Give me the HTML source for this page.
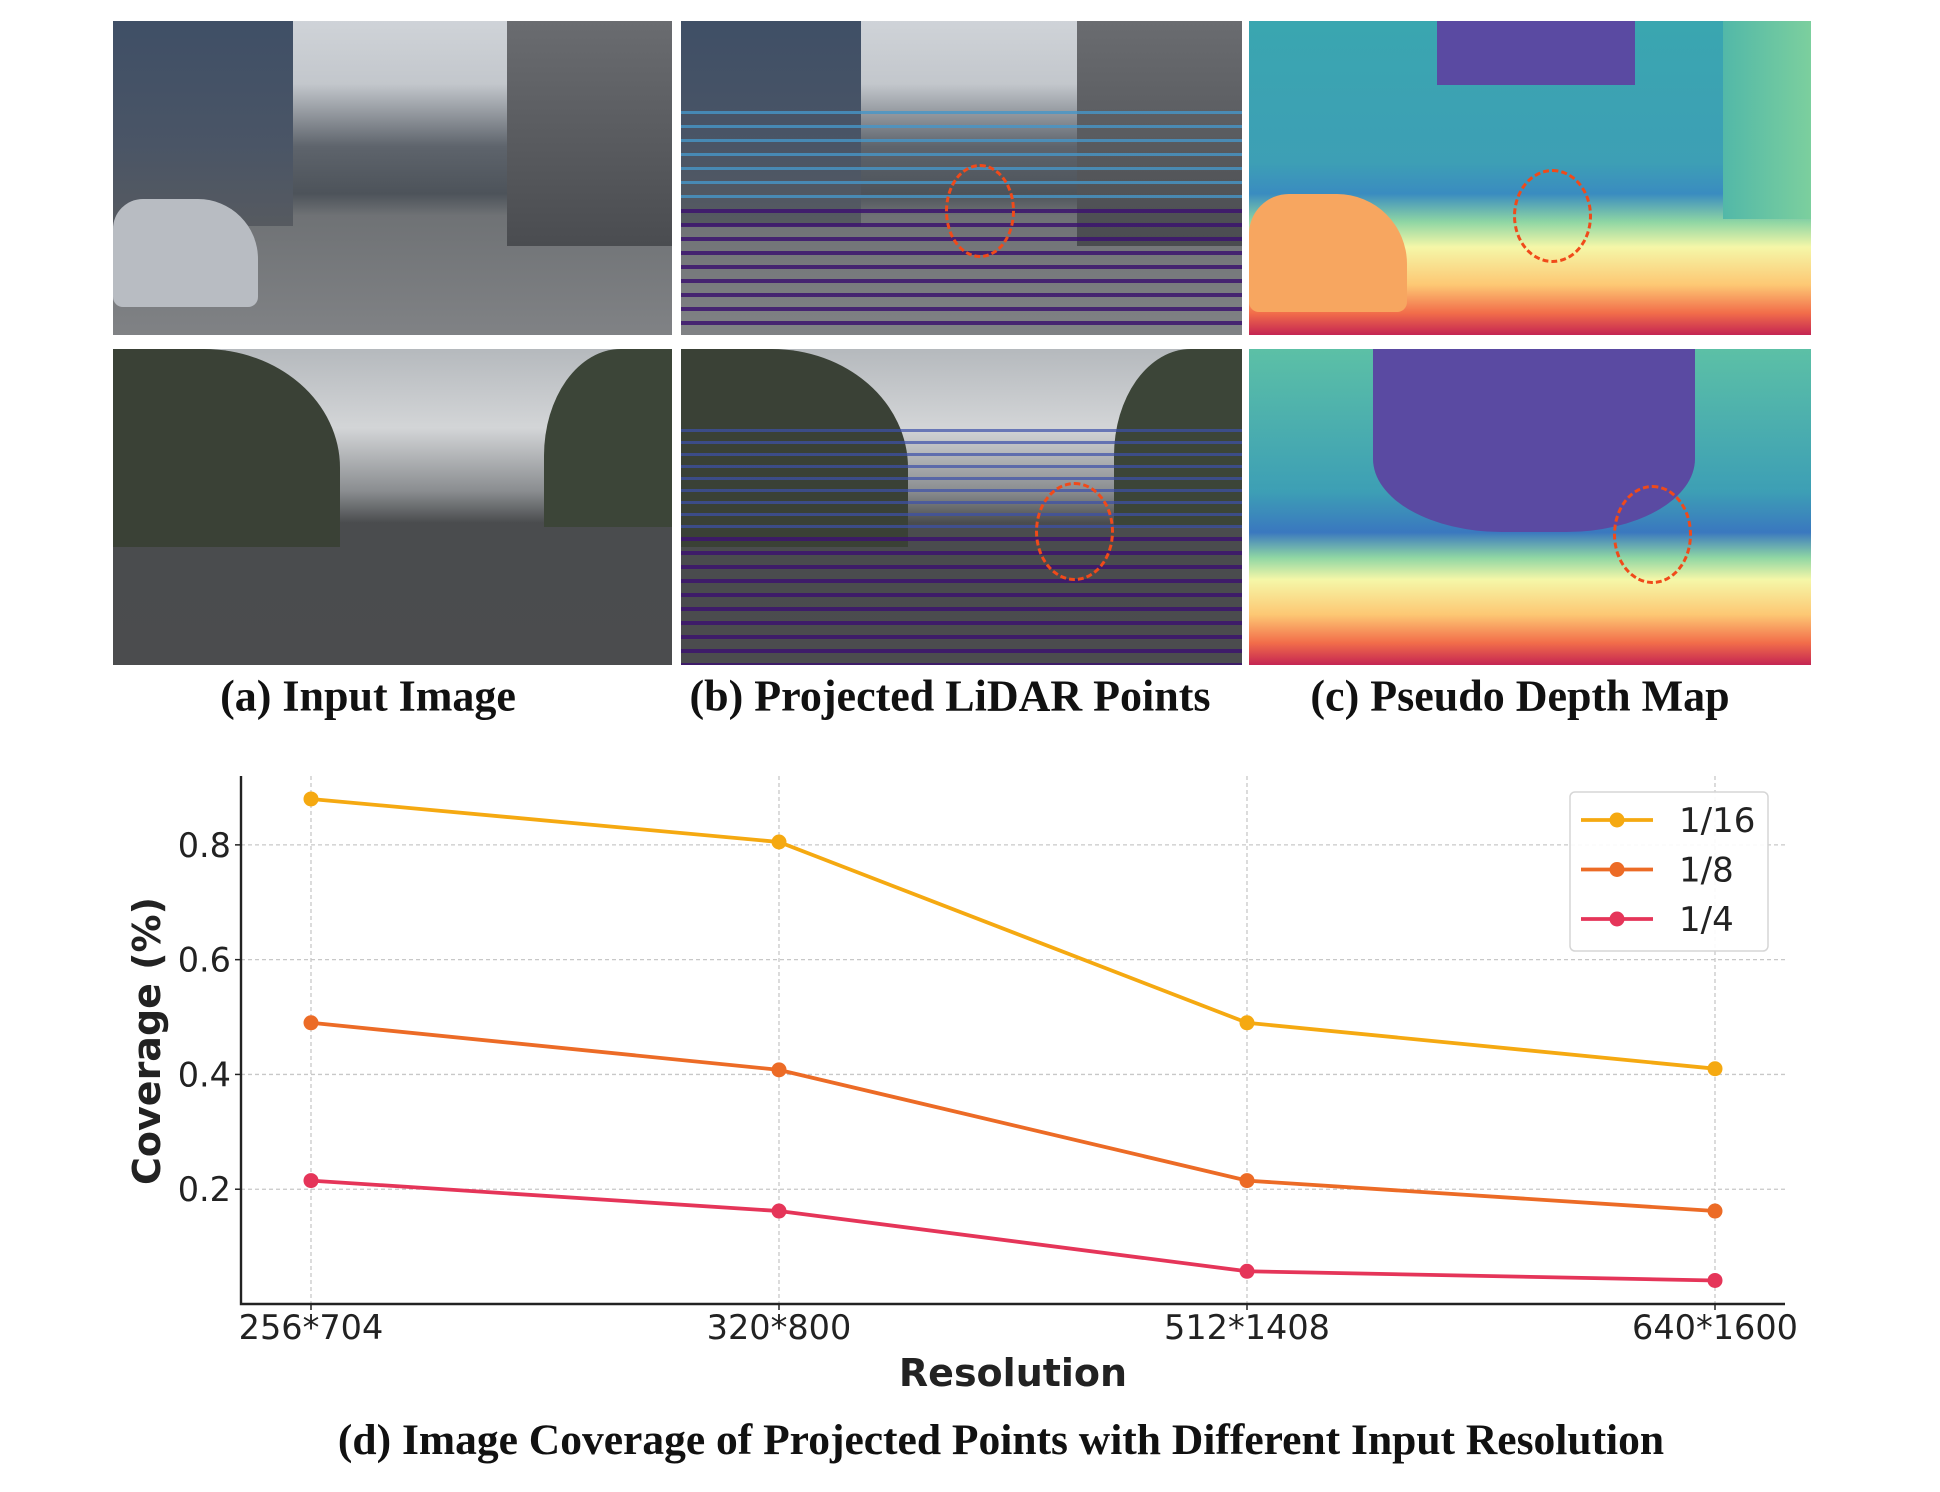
<!DOCTYPE html>
<html><head><meta charset="utf-8">
<style>
html,body{margin:0;padding:0;background:#fff;}
body{width:1940px;height:1492px;position:relative;overflow:hidden;}
.panel{position:absolute;overflow:hidden;}
.cap{position:absolute;font-family:"Liberation Serif",serif;font-weight:bold;color:#111;white-space:nowrap;transform:translate(-50%,-50%);}
</style></head>
<body>
<!-- Row 1 -->
<div class="panel" style="left:113px;top:21px;width:559px;height:314px;background:linear-gradient(180deg,#cfd3d8 0%,#c3c7cc 20%,#5e646c 40%,#4d535a 55%,#6f7275 62%,#808285 100%);">
  <div style="position:absolute;left:0;top:0;width:180px;height:205px;background:linear-gradient(180deg,#3f4f66,#4a5566 60%,#565a60);"></div>
  <div style="position:absolute;right:0;top:0;width:165px;height:225px;background:linear-gradient(180deg,#6a6c70,#4a4c50);"></div>
  <div style="position:absolute;left:0;top:178px;width:145px;height:108px;background:#b8bcc2;border-radius:30px 60px 10px 10px;"></div>
</div>
<div class="panel" style="left:681px;top:21px;width:561px;height:314px;background:linear-gradient(180deg,#cfd3d8 0%,#c3c7cc 20%,#5e646c 40%,#4d535a 55%,#6f7275 62%,#808285 100%);">
  <div style="position:absolute;left:0;top:0;width:180px;height:205px;background:linear-gradient(180deg,#3f4f66,#4a5566 60%,#565a60);"></div>
  <div style="position:absolute;right:0;top:0;width:165px;height:225px;background:linear-gradient(180deg,#6a6c70,#4a4c50);"></div>
  <div style="position:absolute;left:0;top:90px;width:561px;height:98px;background:repeating-linear-gradient(180deg,rgba(70,150,200,.8) 0 3px,transparent 3px 14px);"></div>
  <div style="position:absolute;left:0;top:188px;width:561px;height:126px;background:repeating-linear-gradient(180deg,rgba(60,20,110,.85) 0 4px,transparent 4px 14px);"></div>
  <div style="position:absolute;left:264px;top:143px;width:70px;height:94px;border:3px dashed #f04a1a;border-radius:50%;box-sizing:border-box;"></div>
</div>
<div class="panel" style="left:1249px;top:21px;width:562px;height:314px;background:linear-gradient(180deg,#3aa6b0 0%,#3d9fb5 45%,#3a8cc0 55%,#8fd6a4 64%,#f5f7a8 72%,#fdc874 84%,#f26d4a 93%,#c42552 100%);">
  <div style="position:absolute;left:188px;top:0;width:198px;height:64px;background:#5a4aa2;"></div>
  <div style="position:absolute;right:0;top:0;width:88px;height:198px;background:linear-gradient(90deg,#52b8a8,#7ccf9e);"></div>
  <div style="position:absolute;left:0;top:173px;width:158px;height:118px;background:#f7a660;border-radius:40px 70px 10px 10px;"></div>
  <div style="position:absolute;left:264px;top:148px;width:79px;height:94px;border:3px dashed #f04a1a;border-radius:50%;box-sizing:border-box;"></div>
</div>
<!-- Row 2 -->
<div class="panel" style="left:113px;top:349px;width:559px;height:316px;background:linear-gradient(180deg,#b5b9bd 0%,#d3d5d7 25%,#8a8d90 45%,#4a4c4e 55%,#4b4c4e 100%);">
  <div style="position:absolute;left:0;top:0;width:227px;height:198px;background:#3a4136;border-radius:0 60% 0 0;"></div>
  <div style="position:absolute;right:0;top:0;width:128px;height:178px;background:#3c4538;border-radius:60% 0 0 0;"></div>
</div>
<div class="panel" style="left:681px;top:349px;width:561px;height:316px;background:linear-gradient(180deg,#b5b9bd 0%,#d3d5d7 25%,#8a8d90 45%,#4a4c4e 55%,#4b4c4e 100%);">
  <div style="position:absolute;left:0;top:0;width:227px;height:198px;background:#3a4136;border-radius:0 60% 0 0;"></div>
  <div style="position:absolute;right:0;top:0;width:128px;height:178px;background:#3c4538;border-radius:60% 0 0 0;"></div>
  <div style="position:absolute;left:0;top:80px;width:561px;height:108px;background:repeating-linear-gradient(180deg,rgba(60,80,170,.7) 0 3px,transparent 3px 12px);"></div>
  <div style="position:absolute;left:0;top:188px;width:561px;height:128px;background:repeating-linear-gradient(180deg,rgba(60,20,110,.85) 0 4px,transparent 4px 14px);"></div>
  <div style="position:absolute;left:354px;top:133px;width:79px;height:99px;border:3px dashed #f04a1a;border-radius:50%;box-sizing:border-box;"></div>
</div>
<div class="panel" style="left:1249px;top:349px;width:562px;height:316px;background:linear-gradient(180deg,#5cc0a6 0%,#3d9fb5 45%,#3a78bf 58%,#8fd6a4 66%,#f5f7a8 73%,#fdc874 84%,#f26d4a 93%,#c42552 100%);">
  <div style="position:absolute;left:124px;top:0;width:322px;height:183px;background:#5a4aa2;border-radius:0 0 40% 40%;"></div>
  <div style="position:absolute;left:364px;top:136px;width:79px;height:99px;border:3px dashed #f04a1a;border-radius:50%;box-sizing:border-box;"></div>
</div>
<div class="cap" style="left:368px;top:696px;font-size:44px;">(a) Input Image</div>
<div class="cap" style="left:950px;top:696px;font-size:44px;">(b) Projected LiDAR Points</div>
<div class="cap" style="left:1520px;top:696px;font-size:44px;">(c) Pseudo Depth Map</div>

<svg id="chart" width="1940" height="1492" style="position:absolute;left:0;top:0;" xmlns="http://www.w3.org/2000/svg" font-family="DejaVu Sans, sans-serif"></svg>
<div class="cap" style="left:1001px;top:1440px;font-size:43.5px;">(d) Image Coverage of Projected Points with Different Input Resolution</div>

<script>
const categories = ["256*704","320*800","512*1408","640*1600"];
const seriesNames = ["1/16","1/8","1/4"];
const s16 = [0.88,0.805,0.49,0.41];
const s8 = [0.49,0.408,0.215,0.162];
const s4 = [0.215,0.162,0.057,0.041];
const yTicks = [0.2,0.4,0.6,0.8];
const yTickLabels = ["0.2","0.4","0.6","0.8"];

const NS="http://www.w3.org/2000/svg";
const svg=document.getElementById('chart');
const L=241,R=1785,T=776,B=1304,ymax=0.92;
const X0=311,X1=1715;
function xs(i){return X0+(X1-X0)*i/(categories.length-1);}
function ys(v){return B-(B-T)*v/ymax;}
function mk(tag,attrs){const e=document.createElementNS(NS,tag);for(const k in attrs)e.setAttribute(k,attrs[k]);svg.appendChild(e);return e;}

yTicks.forEach((v,i)=>{
  const g=mk('line',{x1:L,x2:R,y1:ys(v),y2:ys(v),stroke:'#c8c8c8','stroke-dasharray':'4,3','stroke-width':1.3});
  
  
  const t=mk('text',{x:231,y:ys(v)+12,'text-anchor':'end','font-size':33.5,fill:'#222'});
  t.textContent=yTickLabels[i];
  
  
  mk('line',{x1:L-6,x2:L,y1:ys(v),y2:ys(v),stroke:'#222','stroke-width':1.5});
});
categories.forEach((c,i)=>{
  const g=mk('line',{x1:xs(i),x2:xs(i),y1:T,y2:B,stroke:'#c8c8c8','stroke-dasharray':'4,3','stroke-width':1.3});
  
  
  mk('line',{x1:xs(i),x2:xs(i),y1:B,y2:B+6,stroke:'#222','stroke-width':1.5});
  const t=mk('text',{x:xs(i),y:1339,'text-anchor':'middle','font-size':33.5,fill:'#222'});
  t.textContent=c;
  
  
});
const ax=mk('path',{d:`M${L} ${T} L${L} ${B} L${R} ${B}`,fill:'none',stroke:'#222','stroke-width':2.4});


const xt=mk('text',{x:1013,y:1386,'text-anchor':'middle','font-size':38,'font-weight':'bold',fill:'#222'});
xt.textContent='Resolution';


const yt=mk('text',{x:0,y:0,'text-anchor':'middle','font-size':38,'font-weight':'bold',fill:'#222',transform:'translate(160,1041) rotate(-90)'});
yt.textContent='Coverage (%)';



const colors=['#f5a911','#ec6b26','#e53559'];
[s16,s8,s4].forEach((s,k)=>{
  const p=mk('polyline',{points:s.map((v,i)=>xs(i)+','+ys(v)).join(' '),fill:'none',stroke:colors[k],'stroke-width':3.8});
  
  
  s.forEach((v,i)=>{
    const c=mk('circle',{cx:xs(i),cy:ys(v),r:7.5,fill:colors[k]});
    
    
  });
});
const lb=mk('rect',{x:1570,y:792,width:198,height:159,rx:5,fill:'#fff','fill-opacity':0.9,stroke:'#d6d6d6','stroke-width':1.5});


seriesNames.forEach((n,k)=>{
  const y=820+k*49.5;
  mk('line',{x1:1581,x2:1653,y1:y,y2:y,stroke:colors[k],'stroke-width':3.8});
  mk('circle',{cx:1617,cy:y,r:7.5,fill:colors[k]});
  const t=mk('text',{x:1679,y:y+12,'font-size':34,fill:'#222'});
  t.textContent=n;
  
  
});
</script>
</body></html>
